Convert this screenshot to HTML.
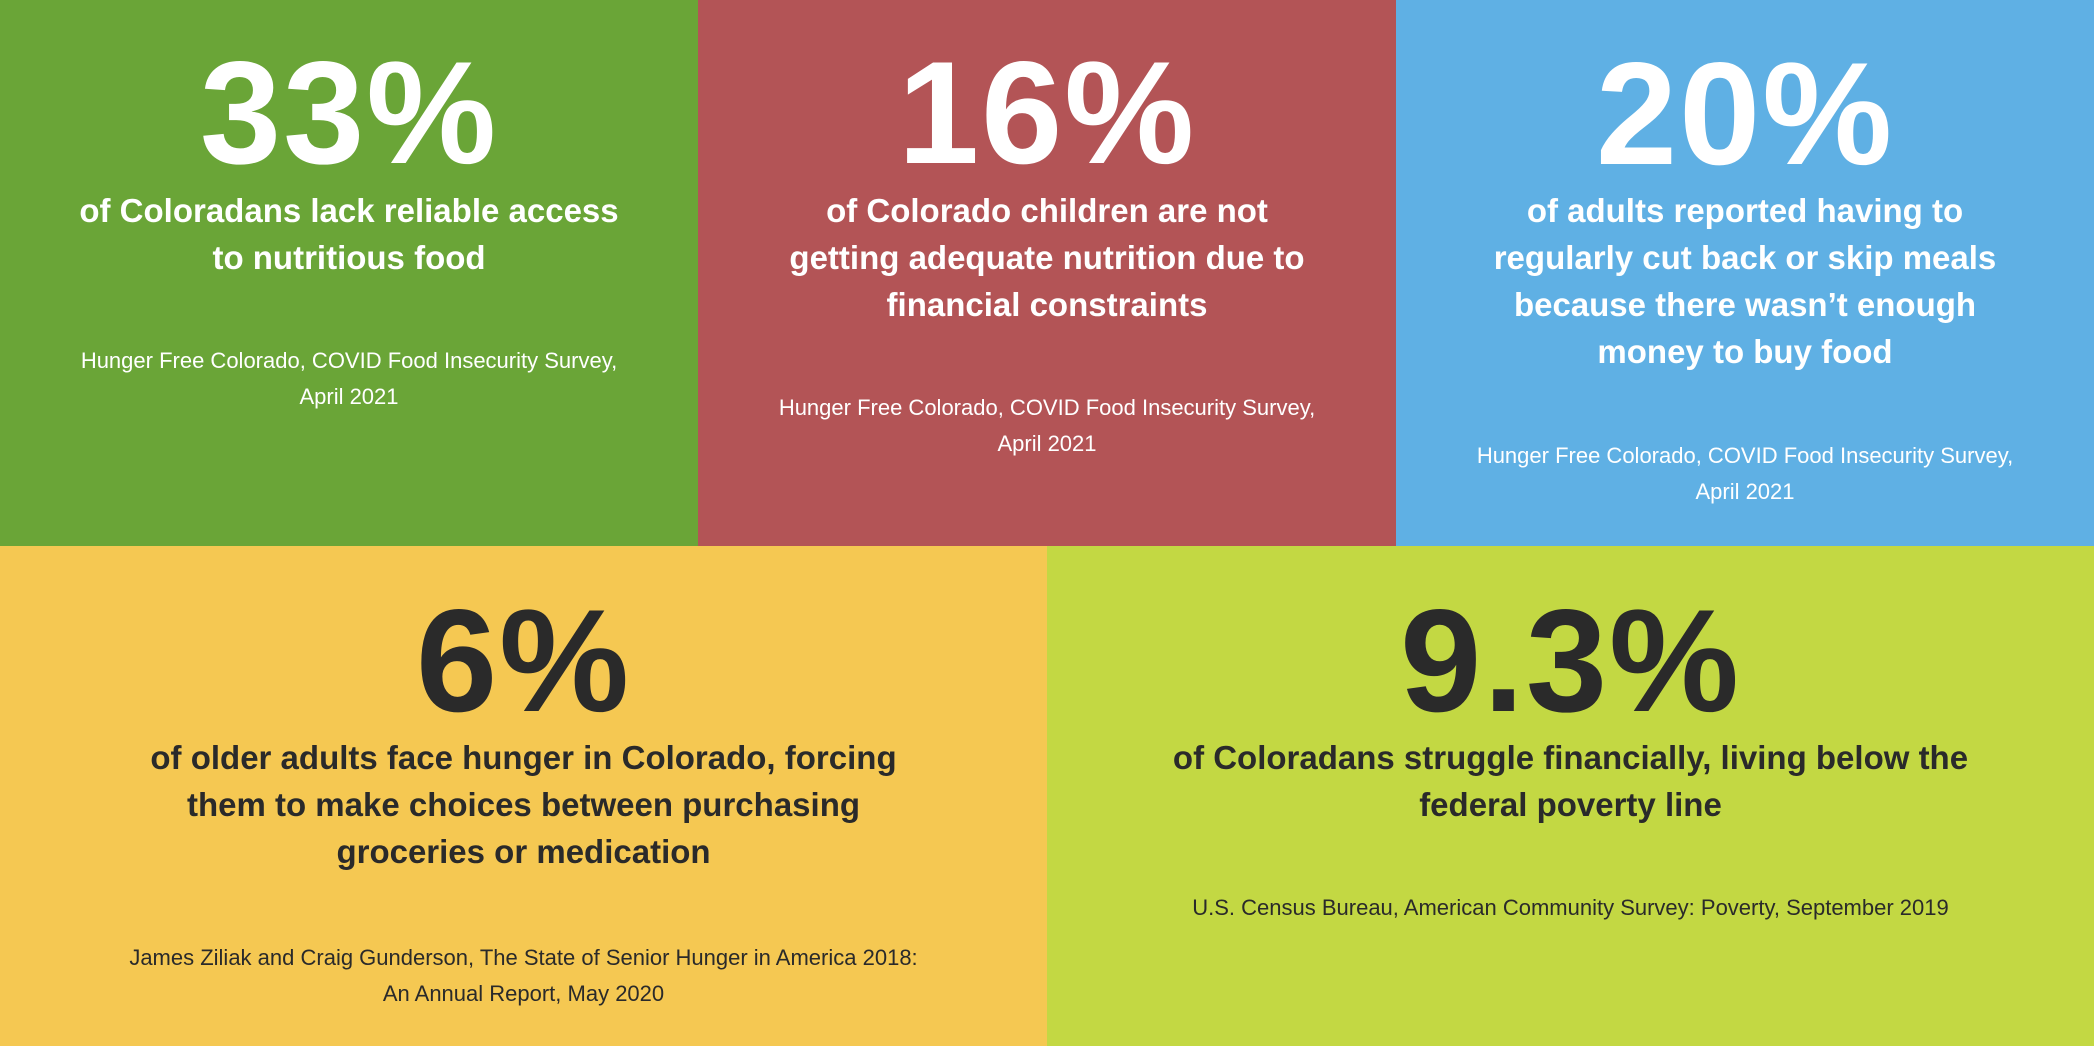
<!DOCTYPE html>
<html><head><meta charset="utf-8"><style>
body{margin:0;width:2094px;height:1046px;overflow:hidden;font-family:"Liberation Sans",sans-serif}
.p{position:absolute;overflow:hidden}
.t{position:absolute;left:0;right:0;text-align:center;white-space:nowrap}
.big{font-weight:bold;font-size:146px;line-height:146px;letter-spacing:2px}
.sub{font-weight:bold;font-size:33px;line-height:47px}
.src{font-size:22px;line-height:36px;font-weight:normal}
.w{color:#fff}.d{color:#2a2a2a}
</style></head><body>
<div class="p w" style="left:0;top:0;width:698px;height:546px;background:#6aa537">
 <div class="t big" style="top:40px">33%</div>
 <div class="t sub" style="top:187px">of Coloradans lack reliable access<br>to nutritious food</div>
 <div class="t src" style="top:343px">Hunger Free Colorado, COVID Food Insecurity Survey,<br>April 2021</div>
</div>
<div class="p w" style="left:698px;top:0;width:698px;height:546px;background:#b35456">
 <div class="t big" style="top:40px">16%</div>
 <div class="t sub" style="top:187px">of Colorado children are not<br>getting adequate nutrition due to<br>financial constraints</div>
 <div class="t src" style="top:390px">Hunger Free Colorado, COVID Food Insecurity Survey,<br>April 2021</div>
</div>
<div class="p w" style="left:1396px;top:0;width:698px;height:546px;background:#5fb0e4">
 <div class="t big" style="top:41px">20%</div>
 <div class="t sub" style="top:187px">of adults reported having to<br>regularly cut back or skip meals<br>because there wasn’t enough<br>money to buy food</div>
 <div class="t src" style="top:438px">Hunger Free Colorado, COVID Food Insecurity Survey,<br>April 2021</div>
</div>
<div class="p d" style="left:0;top:546px;width:1047px;height:500px;background:#f5c852">
 <div class="t big" style="top:42px">6%</div>
 <div class="t sub" style="top:188px">of older adults face hunger in Colorado, forcing<br>them to make choices between purchasing<br>groceries or medication</div>
 <div class="t src" style="top:394px">James Ziliak and Craig Gunderson, The State of Senior Hunger in America 2018:<br>An Annual Report, May 2020</div>
</div>
<div class="p d" style="left:1047px;top:546px;width:1047px;height:500px;background:#c3d843">
 <div class="t big" style="top:42px">9.3%</div>
 <div class="t sub" style="top:188px">of Coloradans struggle financially, living below the<br>federal poverty line</div>
 <div class="t src" style="top:344px">U.S. Census Bureau, American Community Survey: Poverty, September 2019</div>
</div>
</body></html>
